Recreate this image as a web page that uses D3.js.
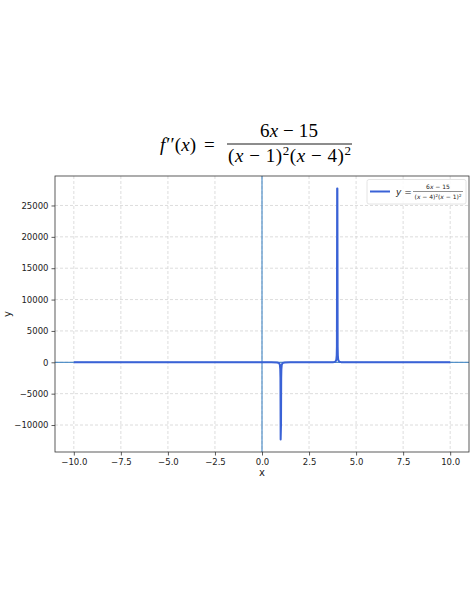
<!DOCTYPE html>
<html>
<head>
<meta charset="utf-8">
<script src="https://cdn.jsdelivr.net/npm/d3@7"></script>
<style>
    body { margin: 0; background: #fff; }
    svg text { font-family: "DejaVu Sans", sans-serif; fill: #222; }
    svg .math text { font-family: "Liberation Serif", "DejaVu Serif", serif; fill: #000; }
</style>
</head>
<body>
<svg id="chart" width="474" height="613"></svg>
<script>
// Curve samples (x, y)
const xValues = [-10, -8, -6, -4, -2, 0, 0.5, 0.8, 0.9, 0.95, 0.97, 0.98, 0.991, 1.01, 1.02, 1.03, 1.05,
    1.1, 1.2, 1.5, 2, 2.5, 3, 3.5, 3.8, 3.9, 3.95, 3.97, 3.98, 3.994, 4.006, 4.02, 4.03, 4.05, 4.1,
    4.2, 4.5, 5, 6, 8, 10];
const yValues = [-0.003, -0.005, -0.01, -0.02, -0.08, -0.9, -3.9, -25, -100, -400, -1110, -2500, -12300,
    -10000, -2500, -1110, -400, -100, -25, -3.8, -0.75, 0, 0.75, 3.8, 25, 100, 400, 1110, 2500, 27700,
    27700, 2500, 1110, 400, 100, 25, 3.8, 0.9, 0.2, 0.04, 0.015];

// Axis ticks
const xTicks = [-10, -7.5, -5, -2.5, 0, 2.5, 5, 7.5, 10];
const yTicks = [-10000, -5000, 0, 5000, 10000, 15000, 20000, 25000];

const svg = d3.select('#chart');
const plot = { left: 55, right: 469, top: 176, bottom: 452 };

const x = d3.scaleLinear().domain([-11, 11]).range([plot.left, plot.right]);
const y = d3.scaleLinear().domain([-14300, 29700]).range([plot.bottom, plot.top]);
const minus = s => s.replace('-', '\u2212');

// Title: f''(x) = (6x - 15) / ((x-1)^2 (x-4)^2)
const title = svg.append('g').attr('class', 'math').style('font-size', '19px');
title.append('text').attr('x', 160).attr('y', 151)
    .attr('textLength', 36).attr('lengthAdjust', 'spacing')
    .html('<tspan font-style="italic">f</tspan><tspan dx="1">\u2032\u2032</tspan>(<tspan font-style="italic">x</tspan>)');
title.append('text').attr('x', 204).attr('y', 151).text('=');
title.append('text').attr('x', 289).attr('y', 137).attr('text-anchor', 'middle')
    .attr('textLength', 58).attr('lengthAdjust', 'spacing')
    .html('6<tspan font-style="italic">x</tspan> \u2212 15');
title.append('line').attr('x1', 227).attr('x2', 352).attr('y1', 144).attr('y2', 144)
    .attr('stroke', '#000').attr('stroke-width', 0.9);
title.append('text').attr('x', 289.5).attr('y', 162).attr('text-anchor', 'middle')
    .attr('textLength', 123).attr('lengthAdjust', 'spacing')
    .html('(<tspan font-style="italic">x</tspan> \u2212 1)<tspan dy="-7" font-size="13">2</tspan>' +
          '<tspan dy="7">(</tspan><tspan font-style="italic">x</tspan> \u2212 4)<tspan dy="-7" font-size="13">2</tspan>');

// Grid
const grid = svg.append('g');
grid.selectAll('.gx').data(xTicks).enter().append('line')
    .attr('x1', d => x(d)).attr('x2', d => x(d)).attr('y1', plot.top).attr('y2', plot.bottom)
    .attr('stroke', '#d4d4d4').attr('stroke-width', 0.8).attr('stroke-dasharray', '3,2');
grid.selectAll('.gy').data(yTicks).enter().append('line')
    .attr('x1', plot.left).attr('x2', plot.right).attr('y1', d => y(d)).attr('y2', d => y(d))
    .attr('stroke', '#d4d4d4').attr('stroke-width', 0.8).attr('stroke-dasharray', '3,2');

// Reference lines at x=0 and y=0
svg.append('line').attr('x1', x(0)).attr('x2', x(0)).attr('y1', plot.top).attr('y2', plot.bottom)
    .attr('stroke', '#2f7bbf').attr('stroke-width', 1);
svg.append('line').attr('x1', plot.left).attr('x2', plot.right).attr('y1', y(0)).attr('y2', y(0))
    .attr('stroke', '#2f7bbf').attr('stroke-width', 1);

// Curve
const points = xValues.map((d, i) => [d, yValues[i]]);
svg.append('path').datum(points)
    .attr('fill', 'none').attr('stroke', '#3a62d6').attr('stroke-width', 2)
    .attr('stroke-linejoin', 'round')
    .attr('d', d3.line().x(d => x(d[0])).y(d => y(d[1])));

// Axes
const xAxis = d3.axisBottom(x).tickValues(xTicks).tickSize(3.5).tickPadding(3)
    .tickFormat(d => minus(d3.format('.1f')(d)));
const yAxis = d3.axisLeft(y).tickValues(yTicks).tickSize(3.5).tickPadding(3)
    .tickFormat(d => minus(String(d)));
svg.append('g').attr('transform', `translate(0,${plot.bottom})`).call(xAxis);
svg.append('g').attr('transform', `translate(${plot.left},0)`).call(yAxis);
svg.selectAll('.tick text').style('font-size', '8.5px').style('font-family', '"DejaVu Sans", sans-serif').attr('fill', '#222');
svg.selectAll('.tick line').attr('stroke', '#333').attr('stroke-width', 0.8);
svg.selectAll('.domain').remove();

// Frame
svg.append('rect').attr('x', plot.left).attr('y', plot.top)
    .attr('width', plot.right - plot.left).attr('height', plot.bottom - plot.top)
    .attr('fill', 'none').attr('stroke', '#333').attr('stroke-width', 0.8);

// Axis labels
svg.append('text').attr('x', x(0)).attr('y', 476).attr('text-anchor', 'middle')
    .style('font-size', '10px').text('x');
svg.append('text').attr('transform', `translate(11,${(plot.top + plot.bottom) / 2}) rotate(-90)`)
    .attr('text-anchor', 'middle').style('font-size', '10px').text('y');

// Legend
const legend = svg.append('g');
legend.append('rect').attr('x', 367).attr('y', 179.5).attr('width', 99).attr('height', 24.5)
    .attr('rx', 2).attr('fill', '#fff').attr('fill-opacity', 0.85)
    .attr('stroke', '#ddd').attr('stroke-width', 0.8);
legend.append('line').attr('x1', 370).attr('x2', 390).attr('y1', 191.5).attr('y2', 191.5)
    .attr('stroke', '#3a62d6').attr('stroke-width', 2);
legend.append('text').attr('x', 396).attr('y', 195).style('font-size', '9px')
    .html('<tspan font-style="italic">y</tspan> =');
legend.append('text').attr('x', 438).attr('y', 189).attr('text-anchor', 'middle').style('font-size', '6px')
    .html('6<tspan font-style="italic">x</tspan> \u2212 15');
legend.append('line').attr('x1', 413).attr('x2', 463).attr('y1', 191.5).attr('y2', 191.5)
    .attr('stroke', '#222').attr('stroke-width', 0.5);
legend.append('text').attr('x', 438).attr('y', 199).attr('text-anchor', 'middle').style('font-size', '6px')
    .html('(<tspan font-style="italic">x</tspan> \u2212 4)<tspan dy="-2.5" font-size="4">2</tspan>' +
          '<tspan dy="2.5">(</tspan><tspan font-style="italic">x</tspan> \u2212 1)<tspan dy="-2.5" font-size="4">2</tspan>');
</script>
</body>
</html>
